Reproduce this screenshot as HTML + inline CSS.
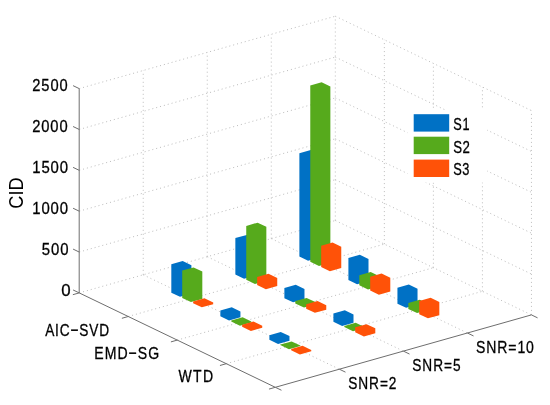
<!DOCTYPE html>
<html><head><meta charset="utf-8"><style>
html,body{margin:0;padding:0;background:#fff;}
svg{display:block;}
text{font-family:"Liberation Sans",Arial,sans-serif;fill:#000;stroke:#000;stroke-width:0.3px;}
</style></head><body>
<svg width="550" height="405" viewBox="0 0 550 405">
<rect x="0" y="0" width="550" height="405" fill="#fff"/>
<g stroke="#bcbcbc" stroke-width="1" stroke-dasharray="1 3" fill="none"><line x1="79.2" y1="292.9" x2="335.32" y2="220.5"/><line x1="335.32" y1="220.5" x2="531.44" y2="314.9"/><line x1="79.2" y1="252.04" x2="335.32" y2="179.64"/><line x1="335.32" y1="179.64" x2="531.44" y2="274.04"/><line x1="79.2" y1="211.18" x2="335.32" y2="138.78"/><line x1="335.32" y1="138.78" x2="531.44" y2="233.18"/><line x1="79.2" y1="170.32" x2="335.32" y2="97.92"/><line x1="335.32" y1="97.92" x2="531.44" y2="192.32"/><line x1="79.2" y1="129.46" x2="335.32" y2="57.06"/><line x1="335.32" y1="57.06" x2="531.44" y2="151.46"/><line x1="79.2" y1="88.6" x2="335.32" y2="16.2"/><line x1="335.32" y1="16.2" x2="531.44" y2="110.6"/><line x1="143.23" y1="274.8" x2="143.23" y2="70.5"/><line x1="207.26" y1="256.7" x2="207.26" y2="52.4"/><line x1="271.29" y1="238.6" x2="271.29" y2="34.3"/><line x1="335.32" y1="220.5" x2="335.32" y2="16.2"/><line x1="384.35" y1="244.1" x2="384.35" y2="39.8"/><line x1="433.38" y1="267.7" x2="433.38" y2="63.4"/><line x1="482.41" y1="291.3" x2="482.41" y2="87"/><line x1="531.44" y1="314.9" x2="531.44" y2="110.6"/><line x1="128.23" y1="316.5" x2="384.35" y2="244.1"/><line x1="177.26" y1="340.1" x2="433.38" y2="267.7"/><line x1="226.29" y1="363.7" x2="482.41" y2="291.3"/><line x1="143.23" y1="274.8" x2="339.35" y2="369.2"/><line x1="207.26" y1="256.7" x2="403.38" y2="351.1"/><line x1="271.29" y1="238.6" x2="467.41" y2="333"/></g>
<g stroke="#6e6e6e" stroke-width="1" fill="none"><line x1="79.2" y1="292.9" x2="79.2" y2="88.6"/><line x1="79.2" y1="292.9" x2="275.32" y2="387.3"/><line x1="275.32" y1="387.3" x2="531.44" y2="314.9"/><line x1="79.2" y1="292.9" x2="73.073" y2="289.951"/><line x1="79.2" y1="252.04" x2="73.073" y2="249.091"/><line x1="79.2" y1="211.18" x2="73.073" y2="208.231"/><line x1="79.2" y1="170.32" x2="73.073" y2="167.371"/><line x1="79.2" y1="129.46" x2="73.073" y2="126.511"/><line x1="79.2" y1="88.6" x2="73.073" y2="85.651"/><line x1="79.2" y1="292.9" x2="72.849" y2="294.695"/><line x1="128.23" y1="316.5" x2="121.879" y2="318.295"/><line x1="177.26" y1="340.1" x2="170.909" y2="341.895"/><line x1="226.29" y1="363.7" x2="219.939" y2="365.495"/><line x1="275.32" y1="387.3" x2="268.969" y2="389.095"/><line x1="275.32" y1="387.3" x2="281.447" y2="390.249"/><line x1="339.35" y1="369.2" x2="345.477" y2="372.149"/><line x1="403.38" y1="351.1" x2="409.507" y2="354.049"/><line x1="467.41" y1="333" x2="473.537" y2="335.949"/><line x1="531.44" y1="314.9" x2="537.567" y2="317.849"/></g>
<g><polygon fill="#0071C5" points="299.375,153.173 310.758,149.955 319.474,154.15 319.474,257.444 308.091,260.662 299.375,256.467"/><polygon fill="#56AA1C" points="310.27,85.441 321.653,82.223 330.37,86.419 330.37,262.689 318.987,265.907 310.27,261.711"/><polygon fill="#FF5208" points="321.166,245.708 332.549,242.491 341.265,246.686 341.265,267.933 329.882,271.151 321.166,266.956"/><polygon fill="#0071C5" points="235.345,238.12 246.728,234.902 255.444,239.097 255.444,275.544 244.061,278.762 235.345,274.567"/><polygon fill="#0071C5" points="348.405,258.002 359.788,254.784 368.504,258.98 368.504,281.044 357.121,284.262 348.405,280.067"/><polygon fill="#56AA1C" points="246.24,225.876 257.623,222.658 266.34,226.854 266.34,280.789 254.957,284.007 246.24,279.811"/><polygon fill="#56AA1C" points="359.3,275.178 370.683,271.96 379.4,276.156 379.4,286.289 368.017,289.507 359.3,285.311"/><polygon fill="#FF5208" points="257.136,276.965 268.519,273.747 277.235,277.943 277.235,286.033 265.852,289.251 257.136,285.056"/><polygon fill="#FF5208" points="370.196,276.663 381.579,273.445 390.295,277.641 390.295,291.533 378.912,294.751 370.196,290.556"/><polygon fill="#0071C5" points="284.375,287.952 295.758,284.734 304.474,288.929 304.474,299.144 293.091,302.362 284.375,298.167"/><polygon fill="#0071C5" points="397.435,287.731 408.818,284.513 417.534,288.709 417.534,304.644 406.151,307.862 397.435,303.667"/><polygon fill="#0071C5" points="171.315,264.31 182.698,261.092 191.414,265.288 191.414,293.644 180.031,296.862 171.315,292.667"/><polygon fill="#56AA1C" points="182.21,270.617 193.593,267.399 202.31,271.594 202.31,298.889 190.927,302.107 182.21,297.911"/><polygon fill="#56AA1C" points="295.27,301.123 306.653,297.905 315.37,302.101 315.37,304.389 303.987,307.607 295.27,303.411"/><polygon fill="#56AA1C" points="408.33,302.946 419.713,299.728 428.43,303.923 428.43,309.889 417.047,313.107 408.33,308.911"/><polygon fill="#FF5208" points="193.106,301.521 204.489,298.303 213.205,302.499 213.205,304.133 201.822,307.351 193.106,303.156"/><polygon fill="#FF5208" points="306.166,304.243 317.549,301.025 326.265,305.22 326.265,309.633 314.882,312.851 306.166,308.656"/><polygon fill="#FF5208" points="419.226,301.08 430.609,297.863 439.325,302.058 439.325,315.133 427.942,318.351 419.226,314.156"/><polygon fill="#0071C5" points="220.345,310.465 231.728,307.247 240.444,311.442 240.444,317.244 229.061,320.462 220.345,316.267"/><polygon fill="#0071C5" points="333.405,313.513 344.788,310.295 353.504,314.491 353.504,322.744 342.121,325.962 333.405,321.767"/><polygon fill="#56AA1C" points="231.24,320.53 242.623,317.313 251.34,321.508 251.34,322.489 239.957,325.707 231.24,321.511"/><polygon fill="#56AA1C" points="344.3,326.03 355.683,322.813 364.4,327.008 364.4,327.989 353.017,331.207 344.3,327.011"/><polygon fill="#FF5208" points="242.136,324.713 253.519,321.495 262.235,325.69 262.235,327.733 250.852,330.951 242.136,326.756"/><polygon fill="#FF5208" points="355.196,327.352 366.579,324.135 375.295,328.33 375.295,333.233 363.912,336.451 355.196,332.256"/><polygon fill="#0071C5" points="269.375,335.127 280.758,331.909 289.474,336.105 289.474,340.844 278.091,344.062 269.375,339.867"/><polygon fill="#56AA1C" points="280.27,344.621 291.653,341.403 300.37,345.599 300.37,346.089 288.987,349.307 280.27,345.111"/><polygon fill="#FF5208" points="291.166,349.048 302.549,345.83 311.265,350.026 311.265,351.333 299.882,354.551 291.166,350.356"/></g>
<rect x="407.5" y="110" width="79.5" height="72.5" fill="#fff"/><rect x="413.7" y="114.2" width="35.5" height="17.4" fill="#0071C5"/><rect x="413.7" y="136.7" width="35.5" height="17.4" fill="#56AA1C"/><rect x="413.7" y="159.6" width="35.5" height="17.4" fill="#FF5208"/>
<text transform="matrix(0.864 0 0 1 32.265 90.815)" font-size="17" letter-spacing="1.052">2500</text>
<text transform="matrix(0.867 0 0 1 32.163 132.065)" font-size="17" letter-spacing="1.052">2000</text>
<text transform="matrix(0.877 0 0 1 32.182 172.715)" font-size="17" letter-spacing="1.04">1500</text>
<text transform="matrix(0.877 0 0 1 32.182 213.615)" font-size="17" letter-spacing="1.04">1000</text>
<text transform="matrix(0.878 0 0 1 41.703 255.315)" font-size="17" letter-spacing="1.175">500</text>
<text transform="matrix(0.991 0 0 1 61.126 296.465)" font-size="17">0</text>
<text transform="matrix(0.805 0 0 1 45.132 335.715)" font-size="17" letter-spacing="1.048">AIC−SVD</text>
<text transform="matrix(0.829 0 0 1 94.273 359.115)" font-size="17" letter-spacing="1.211">EMD−SG</text>
<text transform="matrix(0.827 0 0 1 178.43 382.415)" font-size="17" letter-spacing="1.645">WTD</text>
<text transform="matrix(0.806 0 0 1 348.183 389.265)" font-size="17" letter-spacing="1.166">SNR=2</text>
<text transform="matrix(0.805 0 0 1 412.284 371.415)" font-size="17" letter-spacing="1.17">SNR=5</text>
<text transform="matrix(0.825 0 0 1 475.969 353.265)" font-size="17" letter-spacing="1.101">SNR=10</text>
<text transform="matrix(0.747 0 0 1 453.329 129.865)" font-size="17" letter-spacing="1.011">S1</text>
<text transform="matrix(0.778 0 0 1 453.205 152.815)" font-size="17" letter-spacing="0.594">S2</text>
<text transform="matrix(0.754 0 0 1 453.223 175.315)" font-size="17" letter-spacing="0.597">S3</text>
<text transform="translate(23.13 208.708) rotate(-90) scale(0.912 1)" font-size="19.9" style="stroke-width:0">CID</text>
</svg>
</body></html>
